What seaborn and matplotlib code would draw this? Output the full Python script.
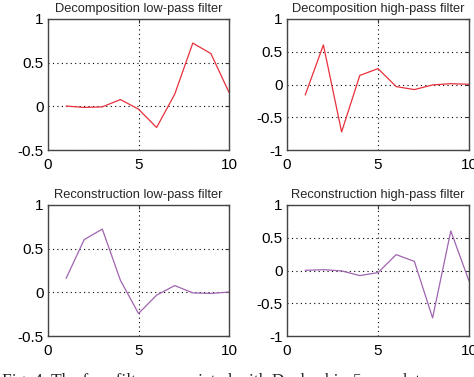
import numpy as np
import pandas as pd
import matplotlib
matplotlib.use("Agg")
import matplotlib.pyplot as plt
import seaborn as sns

# db5 filter coefficients
n = list(range(1, 11))
dec_lo = [0.0033, -0.0126, -0.0062, 0.0776, -0.0322, -0.2423, 0.1384, 0.7243, 0.6038, 0.1601]
dec_hi = [-0.1601, 0.6038, -0.7243, 0.1384, 0.2423, -0.0322, -0.0776, -0.0062, 0.0126, 0.0033]
rec_lo = [0.1601, 0.6038, 0.7243, 0.1384, -0.2423, -0.0322, 0.0776, -0.0062, -0.0126, 0.0033]
rec_hi = [0.0033, 0.0126, -0.0062, -0.0776, -0.0322, 0.2423, 0.1384, -0.7243, 0.6038, -0.1601]

titles = ["Decomposition low-pass filter", "Decomposition high-pass filter",
          "Reconstruction low-pass filter", "Reconstruction high-pass filter"]
series = [dec_lo, dec_hi, rec_lo, rec_hi]
colors = ["#e8303c", "#e8303c", "#a064b0", "#a064b0"]
ylims = [(-0.5, 1), (-1, 1), (-0.5, 1), (-1, 1)]
yticks = [[-0.5, 0, 0.5, 1], [-1, -0.5, 0, 0.5, 1], [-0.5, 0, 0.5, 1], [-1, -0.5, 0, 0.5, 1]]
ylabels = [["-0.5", "0", "0.5", "1"], ["-1", "-0.5", "0", "0.5", "1"],
           ["-0.5", "0", "0.5", "1"], ["-1", "-0.5", "0", "0.5", "1"]]

sns.set_style("white")
plt.rcParams["font.family"] = ["Liberation Sans", "DejaVu Sans"]

W, H = 474, 377
fig = plt.figure(figsize=(W / 100, H / 100), dpi=100)

# pixel boxes: left, top, right, bottom
boxes = [(48, 19, 229, 150), (287, 19, 469, 150),
         (48, 205, 229, 336), (287, 205, 469, 336)]

for i in range(4):
    l, t, r, b = boxes[i]
    ax = fig.add_axes([l / W, 1 - b / H, (r - l) / W, (b - t) / H])
    df = pd.DataFrame({"n": n, "h": series[i]})
    sns.lineplot(data=df, x="n", y="h", color=colors[i], linewidth=0.9, ax=ax)
    ax.set_xlim(0, 10)
    ax.set_ylim(*ylims[i])
    ax.set_xticks([0, 5, 10])
    ax.set_xticklabels(["0", "5", "10"])
    ax.set_yticks(yticks[i])
    ax.set_yticklabels(ylabels[i])
    ax.set_xlabel("")
    ax.set_ylabel("")
    ax.grid(True, color="black", linestyle=(0, (1, 3)), linewidth=0.8)
    ax.tick_params(direction="in", length=3, width=0.8, labelsize=11,
                   top=True, right=True, colors="#333333", labelcolor="black", pad=3)
    ax.tick_params(axis="x", pad=6)
    for s in ax.spines.values():
        s.set_color("#444444")
        s.set_linewidth(1.0)
    ax.set_title(titles[i], fontsize=9.3, pad=5)

fig.text(2 / W, 1 - 373 / H, "Fig. 4. The four filters associated with Daubechies5 wavelet.",
         fontsize=12.5, family=["Liberation Serif", "DejaVu Serif"], va="top", ha="left")

fig.savefig("out.png", dpi=100)
